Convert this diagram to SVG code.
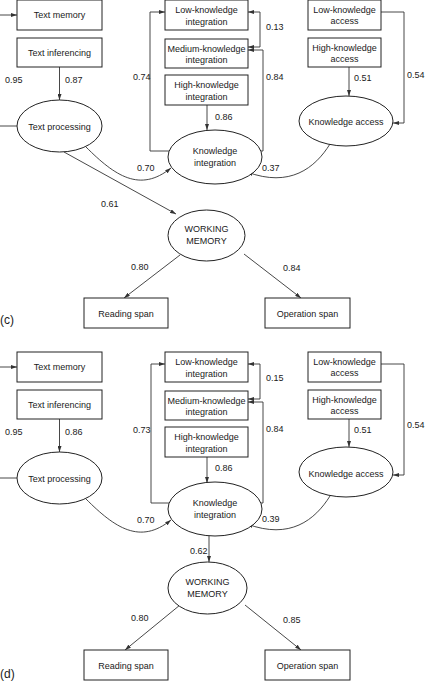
<svg xmlns="http://www.w3.org/2000/svg" width="426" height="681" viewBox="0 0 426 681">
<defs>
<marker id="ah" viewBox="0 0 6 4" refX="6" refY="2" markerWidth="6" markerHeight="4" markerUnits="userSpaceOnUse" orient="auto-start-reverse"><path d="M0,0 L6,2 L0,4 z" fill="#333"/></marker>
<style>
.b{fill:#fff;stroke:#222;stroke-width:1}
.e{fill:#fff;stroke:#222;stroke-width:1}
.t{font-family:"Liberation Sans",Arial,sans-serif;font-size:9px;fill:#1a1a1a;text-anchor:middle}
.l{font-family:"Liberation Sans",Arial,sans-serif;font-size:9px;fill:#1a1a1a}
.p{font-family:"Liberation Sans",Arial,sans-serif;font-size:12px;fill:#1a1a1a}
.c{fill:none;stroke:#333;stroke-width:0.9}
.a{fill:none;stroke:#333;stroke-width:0.9;marker-end:url(#ah)}
.d{fill:none;stroke:#333;stroke-width:0.9;marker-start:url(#ah);marker-end:url(#ah)}
</style>
</defs>
<rect width="426" height="681" fill="#fff"/>

<!-- ===== Panel (c) connectors ===== -->
<g id="connectors-c">
<path class="a" d="M0,15 H17"/>
<path class="c" d="M0,126 H17"/>
<path class="a" d="M59.5,67 V100"/>
<path class="a" d="M64,152 L176,214"/>
<path class="a" d="M86,147 C115,176 140,193 171,168"/>
<path class="a" d="M207,105 V130"/>
<path class="a" d="M169,151 H150 V12 H165"/>
<path class="d" d="M248,12 H260 V47 H248"/>
<path class="a" d="M261,151 H263 V50 H248"/>
<path class="a" d="M349,67 V96"/>
<path class="a" d="M381,12 H404 V123 H393"/>
<path class="a" d="M330,144 C315,168 290,188 247,172"/>
<path class="a" d="M180,255 L124,298"/>
<path class="a" d="M244,254 L301,298"/>
</g>

<!-- ===== Panel (c) nodes ===== -->
<g id="c-text-memory"><rect class="b" x="17" y="0" width="85" height="30"/><text class="t" x="59.5" y="18">Text memory</text></g>
<g id="c-text-inferencing"><rect class="b" x="17" y="38" width="85" height="29"/><text class="t" x="59.5" y="56">Text inferencing</text></g>
<g id="c-text-processing"><ellipse class="e" cx="59.5" cy="126" rx="42.5" ry="26"/><text class="t" x="59.5" y="130">Text processing</text></g>
<g id="c-low-integration"><rect class="b" x="165" y="0" width="83" height="30"/><text class="t" x="206.5" y="13">Low-knowledge</text><text class="t" x="206.5" y="25">integration</text></g>
<g id="c-medium-integration"><rect class="b" x="165" y="39" width="83" height="29"/><text class="t" x="206.5" y="52">Medium-knowledge</text><text class="t" x="206.5" y="63">integration</text></g>
<g id="c-high-integration"><rect class="b" x="165" y="75" width="83" height="30"/><text class="t" x="206.5" y="88">High-knowledge</text><text class="t" x="206.5" y="100">integration</text></g>
<g id="c-knowledge-integration"><ellipse class="e" cx="215" cy="157" rx="47" ry="27"/><text class="t" x="215" y="154">Knowledge</text><text class="t" x="215" y="166">integration</text></g>
<g id="c-low-access"><rect class="b" x="308" y="0" width="73" height="30"/><text class="t" x="344.5" y="13">Low-knowledge</text><text class="t" x="344.5" y="24">access</text></g>
<g id="c-high-access"><rect class="b" x="308" y="38" width="73" height="29"/><text class="t" x="344.5" y="51">High-knowledge</text><text class="t" x="344.5" y="62">access</text></g>
<g id="c-knowledge-access"><ellipse class="e" cx="346" cy="121" rx="47" ry="25"/><text class="t" x="346" y="125">Knowledge access</text></g>
<g id="c-working-memory"><ellipse class="e" cx="206.5" cy="235.5" rx="38.5" ry="25.5"/><text class="t" x="206.5" y="232">WORKING</text><text class="t" x="206.5" y="244">MEMORY</text></g>
<g id="c-reading-span"><rect class="b" x="84" y="298" width="84" height="30"/><text class="t" x="126" y="317">Reading span</text></g>
<g id="c-operation-span"><rect class="b" x="265" y="298" width="85" height="30"/><text class="t" x="307.5" y="317">Operation span</text></g>

<g id="c-labels">
<text class="l" x="5" y="83">0.95</text>
<text class="l" x="65" y="83">0.87</text>
<text class="l" x="133" y="80">0.74</text>
<text class="l" x="266" y="30">0.13</text>
<text class="l" x="266" y="80">0.84</text>
<text class="l" x="215" y="120">0.86</text>
<text class="l" x="354" y="81">0.51</text>
<text class="l" x="407" y="78">0.54</text>
<text class="l" x="137" y="171">0.70</text>
<text class="l" x="262" y="171">0.37</text>
<text class="l" x="101" y="207">0.61</text>
<text class="l" x="131" y="270">0.80</text>
<text class="l" x="283" y="271">0.84</text>
<text class="p" x="0" y="324">(c)</text>
</g>

<!-- ===== Panel (d) connectors ===== -->
<g id="connectors-d">
<path class="a" d="M0,367 H17"/>
<path class="c" d="M0,478 H17"/>
<path class="a" d="M59.5,419 V452"/>
<path class="a" d="M86,499 C115,528 140,545 171,520"/>
<path class="a" d="M207,457 V483"/>
<path class="a" d="M169,503 H151 V364 H165"/>
<path class="d" d="M248,364 H260 V399 H248"/>
<path class="a" d="M261,503 H263 V402 H248"/>
<path class="a" d="M349,419 V447"/>
<path class="a" d="M381,364 H404 V475 H393"/>
<path class="a" d="M330,496 C315,520 290,540 247,524"/>
<path class="a" d="M209,536 V562"/>
<path class="a" d="M180,605 L125,650"/>
<path class="a" d="M245,605 L301,650"/>
</g>

<!-- ===== Panel (d) nodes ===== -->
<g id="d-text-memory"><rect class="b" x="17" y="352" width="85" height="30"/><text class="t" x="59.5" y="370">Text memory</text></g>
<g id="d-text-inferencing"><rect class="b" x="17" y="390" width="85" height="29"/><text class="t" x="59.5" y="408">Text inferencing</text></g>
<g id="d-text-processing"><ellipse class="e" cx="59.5" cy="478" rx="42.5" ry="26"/><text class="t" x="59.5" y="482">Text processing</text></g>
<g id="d-low-integration"><rect class="b" x="165" y="352" width="83" height="30"/><text class="t" x="206.5" y="365">Low-knowledge</text><text class="t" x="206.5" y="377">integration</text></g>
<g id="d-medium-integration"><rect class="b" x="165" y="391" width="83" height="29"/><text class="t" x="206.5" y="404">Medium-knowledge</text><text class="t" x="206.5" y="415">integration</text></g>
<g id="d-high-integration"><rect class="b" x="165" y="427" width="83" height="30"/><text class="t" x="206.5" y="440">High-knowledge</text><text class="t" x="206.5" y="452">integration</text></g>
<g id="d-knowledge-integration"><ellipse class="e" cx="215" cy="509" rx="47" ry="27"/><text class="t" x="215" y="506">Knowledge</text><text class="t" x="215" y="518">integration</text></g>
<g id="d-low-access"><rect class="b" x="308" y="352" width="73" height="30"/><text class="t" x="344.5" y="365">Low-knowledge</text><text class="t" x="344.5" y="376">access</text></g>
<g id="d-high-access"><rect class="b" x="308" y="390" width="73" height="29"/><text class="t" x="344.5" y="403">High-knowledge</text><text class="t" x="344.5" y="414">access</text></g>
<g id="d-knowledge-access"><ellipse class="e" cx="346" cy="472" rx="47" ry="25"/><text class="t" x="346" y="477">Knowledge access</text></g>
<g id="d-working-memory"><ellipse class="e" cx="207.5" cy="588" rx="39.5" ry="26"/><text class="t" x="207.5" y="585">WORKING</text><text class="t" x="207.5" y="597">MEMORY</text></g>
<g id="d-reading-span"><rect class="b" x="84" y="650" width="84" height="30"/><text class="t" x="126" y="669">Reading span</text></g>
<g id="d-operation-span"><rect class="b" x="265" y="650" width="85" height="30"/><text class="t" x="307.5" y="669">Operation span</text></g>

<g id="d-labels">
<text class="l" x="5" y="435">0.95</text>
<text class="l" x="65" y="435">0.86</text>
<text class="l" x="133" y="433">0.73</text>
<text class="l" x="266" y="381">0.15</text>
<text class="l" x="266" y="432">0.84</text>
<text class="l" x="215" y="471">0.86</text>
<text class="l" x="354" y="433">0.51</text>
<text class="l" x="407" y="428">0.54</text>
<text class="l" x="137" y="523">0.70</text>
<text class="l" x="262" y="522">0.39</text>
<text class="l" x="190" y="554">0.62</text>
<text class="l" x="131" y="621">0.80</text>
<text class="l" x="283" y="623">0.85</text>
<text class="p" x="0" y="678">(d)</text>
</g>
</svg>
